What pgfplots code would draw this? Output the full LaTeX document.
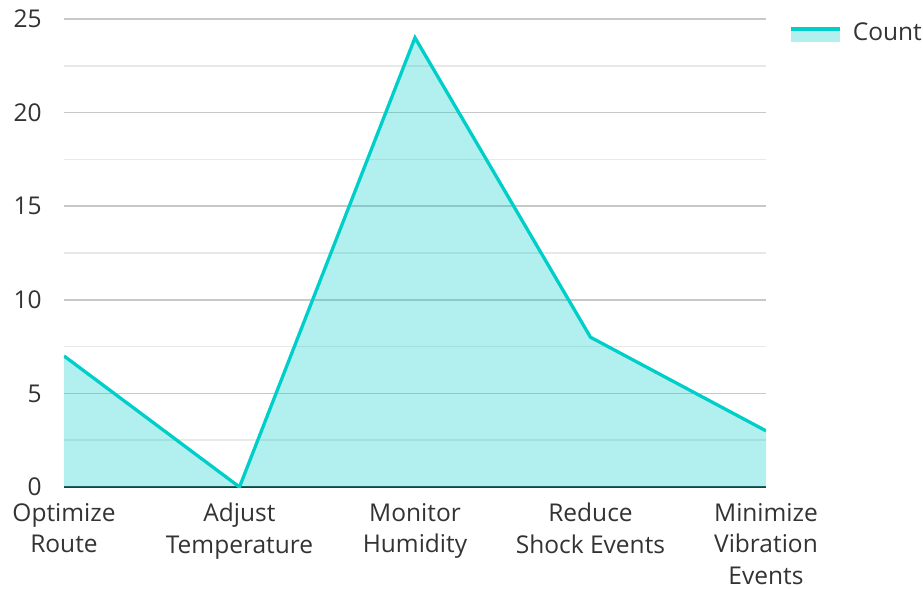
\documentclass[border=0pt]{standalone}
\usepackage{pgfplots}
\pgfplotsset{compat=1.18}
\usepackage{fontspec}
\setmainfont{Open Sans}
\definecolor{turq}{RGB}{0,206,201}
\definecolor{txt}{RGB}{51,51,51}
\definecolor{gridmaj}{RGB}{200,200,200}
\definecolor{gridmin}{RGB}{232,232,232}
\begin{document}
\fontsize{24.5bp}{32bp}\selectfont
\begin{tikzpicture}
\begin{axis}[
    scale only axis,
    width=702bp, height=468bp,
    at={(0,0)}, anchor=south west,
    xmin=0, xmax=4, ymin=0, ymax=25,
    xtick={0,1,2,3,4},
    xticklabels={Optimize\\Route, Adjust\\Temperature, Monitor\\Humidity, Reduce\\Shock Events, Minimize\\Vibration\\Events},
    x tick label style={align=center, text=txt, font=\fontsize{24.5bp}{31.5bp}\selectfont, yshift=-8bp},
    ytick={0,5,...,25},
    minor ytick={2.5,7.5,...,22.5},
    y tick label style={text=txt, font=\fontsize{24.5bp}{32bp}\selectfont, xshift=-14bp},
    /pgf/number format/assume math mode=true,
    ymajorgrids, yminorgrids,
    major grid style={gridmaj, line width=1.5bp},
    minor grid style={gridmin, line width=1.5bp},
    major tick length=0pt, minor tick length=0pt,
    axis x line*=bottom,
    axis y line*=left,
    y axis line style={draw=none},
    x axis line style={-, line width=2bp, color=black!80},
    legend style={at={(1,1)}, anchor=north west, xshift=25bp, yshift=-2bp,
        draw=none, fill=none, inner sep=0pt,
        font=\fontsize{24.5bp}{32bp}\selectfont, text=txt},
]
\addplot[draw=none, fill=turq, fill opacity=0.3, forget plot]
    coordinates {(0,7) (1,0) (2,24) (3,8) (4,3)} \closedcycle;
\addplot[turq, line width=3.3bp,
    legend image code/.code={
        \path[fill=turq, fill opacity=0.3, draw=none] (0bp,-8bp) rectangle (49bp,3bp);
        \path[fill=turq, draw=none] (0bp,3bp) rectangle (49bp,7bp);
        \path (58bp,0bp);
    }]
    coordinates {(0,7) (1,0) (2,24) (3,8) (4,3)};
\addlegendentry{Count}
\end{axis}
\pgfresetboundingbox
\path[use as bounding box] (-64bp,-102bp) rectangle (859bp,487bp);
\end{tikzpicture}
\end{document}
